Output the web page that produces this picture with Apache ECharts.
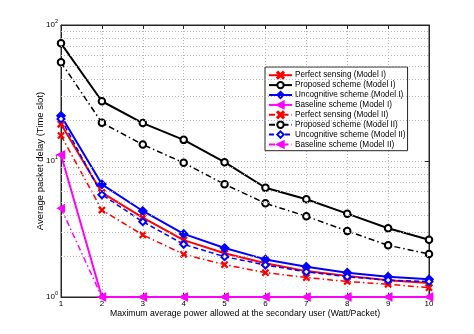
<!DOCTYPE html>
<html>
<head>
<meta charset="utf-8">
<script src="https://cdn.jsdelivr.net/npm/echarts@6/dist/echarts.min.js"></script>
<style>
  html, body { margin: 0; padding: 0; background: #fff; }
  #chart { width: 474px; height: 334px; }
</style>
</head>
<body>
<div id="chart"></div>
<script>
// Maximum average power allowed at the secondary user (Watt/Packet)
const powers = [1, 2, 3, 4, 5, 6, 7, 8, 9, 10];

// Average packet delay (time slots), Model I
const perfectModel1     = [18.7, 5.85, 3.83, 2.62, 2.10, 1.77, 1.55, 1.43, 1.33, 1.27];
const proposedModel1    = [73.3, 27.5, 19.0, 14.3, 9.8, 6.36, 5.23, 4.10, 3.20, 2.64];
const uncognitiveModel1 = [21.5, 6.74, 4.29, 2.91, 2.29, 1.89, 1.67, 1.51, 1.41, 1.35];
const baselineModel1    = [11.1, 1, 1, 1, 1, 1, 1, 1, 1, 1];

// Average packet delay (time slots), Model II
const perfectModel2     = [15.4, 4.36, 2.86, 2.06, 1.73, 1.51, 1.39, 1.30, 1.24, 1.17];
const proposedModel2    = [53.2, 19.1, 13.2, 9.7, 6.74, 4.89, 3.92, 3.06, 2.40, 2.07];
const uncognitiveModel2 = [20.4, 5.65, 3.58, 2.44, 1.98, 1.72, 1.53, 1.41, 1.33, 1.30];
const baselineModel2    = [4.5, 1, 1, 1, 1, 1, 1, 1, 1, 1];

// Minor log grid positions
const minorGrid = [2, 3, 4, 5, 6, 7, 8, 9, 20, 30, 40, 50, 60, 70, 80, 90];

const FONT = 'Liberation Sans, Arial, Helvetica, sans-serif';
const AXIS = '#262626';
const GRID = '#b4b4b4';

const CROSS = 'path://M0,1.2L1.2,0L5,3.8L8.8,0L10,1.2L6.2,5L10,8.8L8.8,10L5,6.2L1.2,10L0,8.8L3.8,5Z';
const LEFT_TRI = 'path://M0,5L10,0L10,10Z';

function pairs(ys) { return powers.map((x, i) => [x, ys[i]]); }

function curve(name, ys, color, model, symbol, size, dash) {
  const solid = model === 1;
  return {
    name: name,
    type: 'line',
    data: pairs(ys),
    symbol: symbol,
    symbolSize: size,
    showSymbol: true,
    lineStyle: {
      color: color,
      width: solid ? 2 : 1.5,
      type: solid ? 'solid' : (dash || [6, 3, 1.5, 3])
    },
    itemStyle: { color: color, borderColor: color, borderWidth: solid ? 1.6 : 1.2 },
    emphasis: { disabled: true },
    z: 3,
    animation: false
  };
}

const series = [
  curve('Perfect sensing (Model I)', perfectModel1, '#ff0000', 1, CROSS, 6),
  curve('Proposed scheme (Model I)', proposedModel1, '#000000', 1, 'emptyCircle', 6.5),
  curve('Uncognitive scheme (Model I)', uncognitiveModel1, '#0000ff', 1, 'diamond', 8),
  curve('Baseline scheme (Model I)', baselineModel1, '#ff00ff', 1, LEFT_TRI, 7),
  curve('Perfect sensing (Model II)', perfectModel2, '#ff0000', 2, CROSS, 6),
  curve('Proposed scheme (Model II)', proposedModel2, '#000000', 2, 'emptyCircle', 6.5),
  curve('Uncognitive scheme (Model II)', uncognitiveModel2, '#0000ff', 2, 'emptyDiamond', 7, [5, 3]),
  curve('Baseline scheme (Model II)', baselineModel2, '#ff00ff', 2, LEFT_TRI, 7)
];

// dotted minor grid lines of the log axis
series.push({
  name: 'minor-grid',
  type: 'line',
  data: [],
  silent: true,
  z: 1,
  animation: false,
  markLine: {
    silent: true,
    symbol: 'none',
    label: { show: false },
    animation: false,
    lineStyle: { color: GRID, type: [1, 2], width: 1 },
    data: minorGrid.map(v => ({ yAxis: v }))
  }
});

const chart = echarts.init(document.getElementById('chart'), null, { renderer: 'canvas' });

chart.setOption({
  backgroundColor: '#ffffff',
  textStyle: { fontFamily: FONT },
  grid: {
    left: 61, right: 45, top: 25, bottom: 37,
    show: true, borderColor: AXIS, borderWidth: 1, backgroundColor: 'transparent'
  },
  legend: {
    data: series.slice(0, 8).map(s => s.name),
    orient: 'vertical',
    left: 265,
    top: 67,
    itemWidth: 23,
    itemHeight: 8,
    itemGap: 1.5,
    padding: [4, 2, 2, 3],
    backgroundColor: '#ffffff',
    borderColor: AXIS,
    borderWidth: 1,
    textStyle: { fontSize: 8.2, color: '#000', fontFamily: FONT, padding: [0, 0, 0, -2] },
    selectedMode: false
  },
  xAxis: [{
    type: 'value',
    min: 1, max: 10, interval: 1,
    name: 'Maximum average power allowed at the secondary user (Watt/Packet)',
    nameLocation: 'middle',
    nameGap: 12,
    nameMoveOverlap: false,
    nameTextStyle: { fontSize: 8.7, color: '#000', fontFamily: FONT },
    axisLine: { show: true, lineStyle: { color: AXIS, width: 1 } },
    axisTick: { show: true, inside: true, length: 4, lineStyle: { color: AXIS } },
    axisLabel: { fontSize: 8, color: '#000', margin: 3, fontFamily: FONT },
    splitLine: { show: true, lineStyle: { color: GRID, type: [1, 2], width: 1 } }
  }, {
    type: 'value', position: 'top',
    min: 1, max: 10, interval: 1,
    axisLine: { show: true, lineStyle: { color: AXIS } },
    axisTick: { show: true, inside: true, length: 4, lineStyle: { color: AXIS } },
    axisLabel: { show: false },
    splitLine: { show: false }
  }],
  yAxis: [{
    type: 'log', logBase: 10,
    min: 1, max: 100,
    name: 'Average packet delay (Time slot)',
    nameLocation: 'middle',
    nameGap: 16,
    nameMoveOverlap: false,
    nameTextStyle: { fontSize: 9.5, color: '#000', fontFamily: FONT },
    axisLine: { show: true, lineStyle: { color: AXIS, width: 1 } },
    axisTick: { show: true, inside: true, length: 4, lineStyle: { color: AXIS } },
    axisLabel: {
      margin: 3,
      color: '#000',
      formatter: v => '{b|10}{e|' + Math.round(Math.log10(v)) + '}',
      rich: {
        b: { fontSize: 8, fontFamily: FONT, color: '#000' },
        e: { fontSize: 5.5, fontFamily: FONT, color: '#000', padding: [0, 0, 7, 0] }
      }
    },
    splitLine: { show: true, lineStyle: { color: GRID, type: [1, 2], width: 1 } }
  }, {
    type: 'log', logBase: 10, position: 'right',
    min: 1, max: 100,
    axisLine: { show: true, lineStyle: { color: AXIS } },
    axisTick: { show: true, inside: true, length: 4, lineStyle: { color: AXIS } },
    axisLabel: { show: false },
    splitLine: { show: false }
  }],
  series: series
});
</script>
</body>
</html>
